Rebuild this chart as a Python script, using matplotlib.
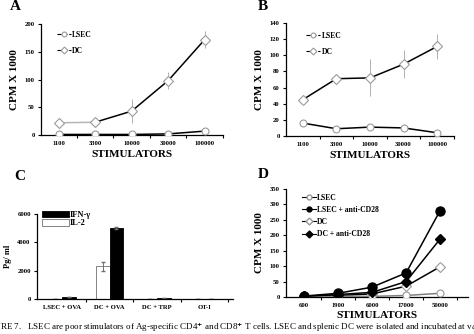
import matplotlib
matplotlib.use("Agg")
import matplotlib.pyplot as plt
from matplotlib.lines import Line2D
import numpy as np

plt.rcParams['font.family'] = ['Liberation Serif', 'DejaVu Serif']
plt.rcParams['font.weight'] = 'bold'

# panel A: CD4 proliferation
a_ticks = ['1100', '3300', '10000', '30000', '100000']
a_dc = [22, 23, 43, 98, 172]
a_dc_err = [0, 0, 22, 16, 16]
a_lsec = [1, 1, 1, 2, 7]

# panel B: CD8 proliferation
b_ticks = ['1100', '3300', '10000', '30000', '100000']
b_dc = [45, 71, 72, 89, 111]
b_dc_err = [0, 0, 23, 17, 15]
b_lsec = [16, 9, 11, 10, 4]

# panel C: cytokines
c_groups = ['LSEC + OVA', 'DC + OVA', 'DC + TRP', 'OT-I']
c_il2 = [0, 2300, 0, 0]
c_il2_err = [0, 320, 0, 0]
c_ifng = [150, 5000, 100, 0]
c_ifng_err = [0, 60, 0, 0]

# panel D: anti-CD28 costimulation
d_ticks = ['600', '1900', '6000', '17000', '50000']
d_lsec = [1, 2, 2, 5, 12]
d_lsec_cd28 = [3, 12, 32, 78, 280]
d_dc = [1, 5, 10, 35, 98]
d_dc_cd28 = [2, 8, 15, 50, 188]

W, H = 474, 334
fig = plt.figure(figsize=(W / 100, H / 100), dpi=100)


def box(l, r, t, b):
    return [l / W, 1 - b / H, (r - l) / W, (b - t) / H]


def style(ax, labels, xlim):
    n = len(labels)
    ax.set_xlim(*xlim)
    ax.set_xticks(np.arange(n))
    ax.set_xticklabels(labels, fontsize=4.8, fontweight='bold')
    ax.set_xticks(np.arange(n) + 0.5, minor=True)
    ax.tick_params(axis='x', which='major', length=0, pad=4.5)
    ax.tick_params(axis='x', which='minor', length=2.5, width=0.8, direction='out')
    ax.tick_params(axis='y', length=2.5, width=0.8, labelsize=4.8, pad=2)
    for lbl in ax.get_yticklabels():
        lbl.set_fontweight('bold')
    for s in ['top', 'right']:
        ax.spines[s].set_visible(False)
    for s in ['left', 'bottom']:
        ax.spines[s].set_linewidth(0.9)


open_mk = dict(mfc='white', mec='#9a9a9a', mew=0.8, ms=5)
err_kw = dict(fmt='none', ecolor='#b0b0b0', elinewidth=0.7, capsize=0)
leg_kw = dict(frameon=False, prop={'size': 5.5, 'weight': 'bold'}, handlelength=1.8,
              handletextpad=0.2)

# ---- A ----
ax = fig.add_axes(box(41, 223, 24, 135))
x = np.arange(len(a_ticks))
ax.errorbar(x, a_dc, yerr=a_dc_err, **err_kw)
ax.plot(x[:2], a_dc[:2], color='#b5b5b5', lw=1.1, zorder=2)
ax.plot(x[1:], a_dc[1:], color='black', lw=1.1, zorder=2)
ax.plot(x, a_dc, ls='none', marker='D', zorder=3, **open_mk)
ax.plot(x, a_lsec, color='black', lw=1.1, marker='o', zorder=3, **open_mk)
ax.set_ylim(0, 200)
ax.set_yticks(range(0, 201, 50))
style(ax, a_ticks, (-0.48, 4.34))
ax.set_ylabel('CPM X 1000', fontsize=8, fontweight='bold', labelpad=4)
ax.set_xlabel('STIMULATORS', fontsize=8, fontweight='bold', labelpad=3)
ax.plot([], [], color='black', lw=0.8, ls='--', marker='o', label='LSEC', **dict(open_mk, ms=3.5))
ax.plot([], [], color='black', lw=0.8, ls='--', marker='D', label='DC', **dict(open_mk, ms=3.5))
ax.legend(loc='upper left', bbox_to_anchor=(0.05, 1.0), labelspacing=1.0, **leg_kw)
fig.text(10 / W, 1 - 7 / H, 'A', fontsize=11, fontweight='bold', va='center')

# ---- B ----
ax = fig.add_axes(box(286, 454, 23, 136))
x = np.arange(len(b_ticks))
ax.errorbar(x, b_dc, yerr=b_dc_err, **err_kw)
ax.plot(x, b_dc, color='black', lw=1.1, marker='D', zorder=3, **open_mk)
ax.plot(x, b_lsec, color='black', lw=1.1, marker='o', zorder=3, **open_mk)
ax.set_ylim(0, 140)
ax.set_yticks(range(0, 141, 20))
style(ax, b_ticks, (-0.5, 4.4))
ax.set_ylabel('CPM X 1000', fontsize=8, fontweight='bold', labelpad=4)
ax.set_xlabel('STIMULATORS', fontsize=8, fontweight='bold', labelpad=3)
ax.plot([], [], color='black', lw=0.8, ls='--', marker='o', label='LSEC', **dict(open_mk, ms=3.5))
ax.plot([], [], color='black', lw=0.8, ls='--', marker='D', label='DC', **dict(open_mk, ms=3.5))
ax.legend(loc='upper left', bbox_to_anchor=(0.08, 0.98), labelspacing=1.0, **leg_kw)
fig.text(258 / W, 1 - 7 / H, 'B', fontsize=11, fontweight='bold', va='center')

# ---- C ----
ax = fig.add_axes(box(37, 233, 214, 299))
x = np.arange(len(c_groups))
bw = 0.285
ax.bar(x - bw / 2, c_il2, bw, color='white', edgecolor='#707070', lw=0.6,
       yerr=c_il2_err, error_kw=dict(ecolor='#707070', elinewidth=0.7, capsize=1.5),
       label='IL-2')
ax.bar(x + bw / 2, c_ifng, bw, color='black', edgecolor='black', lw=0.6,
       yerr=c_ifng_err, error_kw=dict(ecolor='#707070', elinewidth=0.7, capsize=1.5),
       label='IFN-γ')
ax.set_ylim(0, 6000)
ax.set_yticks(range(0, 6001, 2000))
style(ax, c_groups, (-0.53, 3.6))
ax.set_ylabel('Pg/ ml', fontsize=6, fontweight='bold', labelpad=4)
h, l = ax.get_legend_handles_labels()
ax.legend(h[::-1], l[::-1], loc='upper left', bbox_to_anchor=(0.0, 1.1), frameon=False,
          prop={'size': 6, 'weight': 'bold'}, handlelength=3.2, handleheight=0.9,
          handletextpad=0.1, labelspacing=0.0, borderpad=0.1)
fig.text(14 / W, 1 - 177 / H, 'C', fontsize=11, fontweight='bold', va='center')

# ---- D ----
ax = fig.add_axes(box(286, 468, 189, 297))
x = np.arange(len(d_ticks))
fill_mk = dict(mfc='black', mec='black', ms=5)
ax.plot(x, d_dc, color='black', lw=1.1, marker='D', zorder=3, **open_mk, label='DC')
ax.plot(x, d_lsec, color='#808080', lw=1.1, marker='o', zorder=3, **open_mk, label='LSEC')
ax.plot(x, d_dc_cd28, color='black', lw=1.1, marker='D', zorder=4, **fill_mk,
        label='DC + anti-CD28')
ax.plot(x, d_lsec_cd28, color='black', lw=1.1, marker='o', zorder=4,
        **dict(fill_mk, ms=6.5), label='LSEC + anti-CD28')
ax.set_ylim(0, 350)
ax.set_yticks(range(0, 351, 50))
style(ax, d_ticks, (-0.53, 4.82))
ax.set_ylabel('CPM X 1000', fontsize=8, fontweight='bold', labelpad=4)
ax.set_xlabel('STIMULATORS', fontsize=8, fontweight='bold', labelpad=2)
h, l = ax.get_legend_handles_labels()
order = [1, 3, 0, 2]
leg_h = []
for i in order:
    src = h[i]
    leg_h.append(Line2D([], [], color='black', lw=0.8, ls='-', marker=src.get_marker(),
                        mfc=src.get_markerfacecolor(), mec=src.get_markeredgecolor(), ms=3.5))
ax.legend(leg_h, [l[i] for i in order], loc='upper left', bbox_to_anchor=(0.05, 1.02),
          labelspacing=0.55, **leg_kw)
fig.text(258 / W, 1 - 175 / H, 'D', fontsize=11, fontweight='bold', va='center')

# figure caption, runs off both edges
fig.text(-21 / W, 1 - 327 / H,
         'FIGURE 7.   LSEC are poor stimulators of Ag-specific CD4$^{+}$ and CD8$^{+}$ T cells. '
         'LSEC and splenic DC were isolated and incubated at various concentrations with',
         fontsize=6.45, fontweight='normal', va='center', ha='left')

fig.savefig('out.png', dpi=100)
